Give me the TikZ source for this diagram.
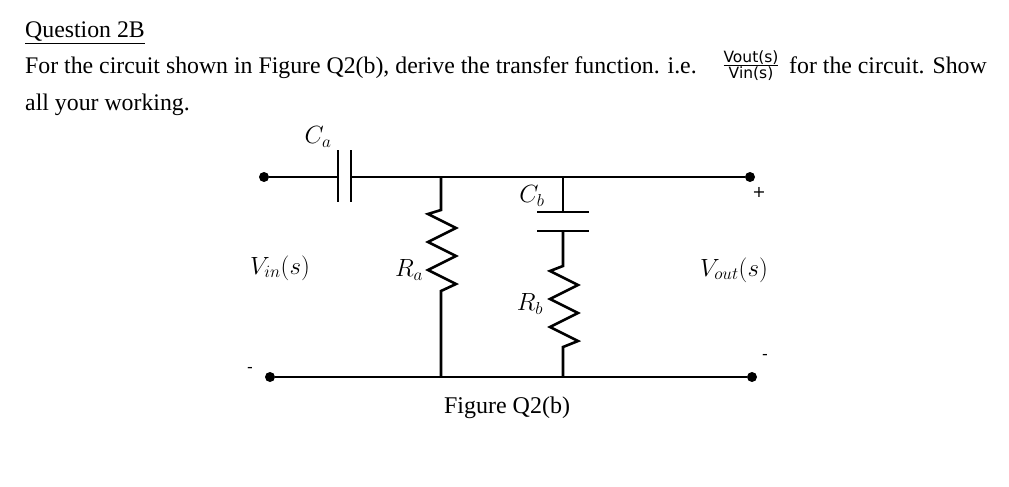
\documentclass[tikz,border=0pt]{standalone}
\usepackage{fontspec}
\setmainfont{Liberation Serif}
\newfontfamily\fracfont{DejaVu Sans}
\begin{document}
\begin{tikzpicture}[x=1pt,y=-1pt,
  wire/.style={line width=2.6pt},
  dot/.style={circle,fill=black,inner sep=0pt,minimum size=10pt},
  txt/.style={inner sep=0pt,anchor=base west,font=\fontsize{23.8}{28}\selectfont},
  lab/.style={inner sep=0pt,font=\fontsize{24}{28}\selectfont}]
\useasboundingbox (0,0) rectangle (1009,487);
\node[txt] (q) at (25,38) {\underline{Question 2B}};
\node[txt] (l1) at (25,74) {For the circuit shown in Figure Q2(b), derive the transfer function. i.e.};
\node[inner sep=0pt] (fr) at (751,67) {\fracfont\fontsize{15.5}{17}\selectfont\begin{tabular}{@{}c@{}}Vout(s)\\[-3pt]\hline\rule{0pt}{13pt}Vin(s)\end{tabular}};
\node[txt,anchor=base east] (l2) at (987,74) {for the circuit. Show};
\node[txt] (l3) at (25,110) {all your working.};
% nodes
\node[dot] (a) at (264,177) {};
\node[dot] (b) at (750,177) {};
\node[dot] (c) at (270,377) {};
\node[dot] (d) at (752,377) {};
\coordinate (ca1) at (338,177);
\coordinate (ca2) at (351,177);
\coordinate (j1) at (441,177);
\coordinate (j2) at (563,177);
\coordinate (k1) at (441,377);
\coordinate (k2) at (563,377);
\draw[wire] (a) -- (ca1);
\draw[wire] (338,150) -- (338,202);
\draw[wire] (351,150) -- (351,202);
\draw[wire] (ca2) -- (b);
\draw[wire] (c) -- (d);
% Ra
\draw[wire,line join=miter] (j1) -- (441,210) -- (428,214) -- (456,228) -- (428,242) -- (456,256) -- (428,270) -- (456,284) -- (441,291) -- (k1);
% Cb
\coordinate (cb1) at (563,212);
\coordinate (cb2) at (563,231);
\draw[wire] (j2) -- (cb1);
\draw[wire] (537,212) -- (589,212);
\draw[wire] (537,231) -- (589,231);
\draw[wire,line join=miter] (cb2) -- (563,266) -- (550,271) -- (578,285) -- (550,299) -- (578,313) -- (550,327) -- (578,341) -- (563,347) -- (k2);
% labels
\node[lab] (lca) at (318,137) {$C_a$};
\node[lab] (lvin) at (280,268) {$V_{in}(s)$};
\node[lab] (lra) at (409,270) {$R_a$};
\node[lab] (lcb) at (532,196) {$C_b$};
\node[lab] (lrb) at (530,304) {$R_b$};
\node[lab] (lvout) at (734,270) {$V_{out}(s)$};
\node[inner sep=0pt,font=\fontsize{16}{18}\selectfont\fracfont] (pl) at (759,192) {+};
\node[inner sep=0pt,font=\fontsize{16}{18}\selectfont\fracfont] (m1) at (250,370) {-};
\node[inner sep=0pt,font=\fontsize{16}{18}\selectfont\fracfont] (m2) at (765,357) {-};
\node[lab] (fig) at (507,408) {Figure Q2(b)};
\end{tikzpicture}
\end{document}
